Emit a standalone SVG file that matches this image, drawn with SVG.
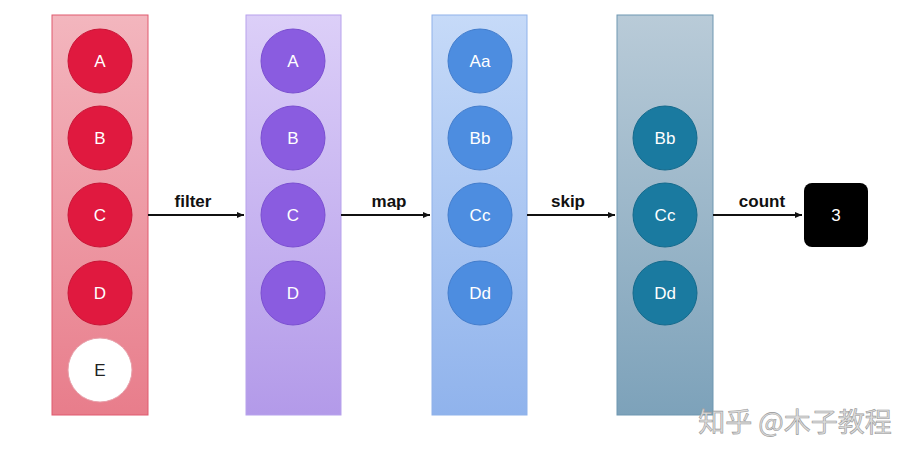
<svg xmlns="http://www.w3.org/2000/svg" width="915" height="457" viewBox="0 0 915 457">
<defs>
<linearGradient id="gr" x1="0" y1="0" x2="0" y2="1"><stop offset="0" stop-color="#f3b6be"/><stop offset="1" stop-color="#e87d8b"/></linearGradient>
<linearGradient id="gp" x1="0" y1="0" x2="0" y2="1"><stop offset="0" stop-color="#dccff8"/><stop offset="1" stop-color="#b39ae9"/></linearGradient>
<linearGradient id="gb" x1="0" y1="0" x2="0" y2="1"><stop offset="0" stop-color="#c6daf8"/><stop offset="1" stop-color="#90b3ec"/></linearGradient>
<linearGradient id="gt" x1="0" y1="0" x2="0" y2="1"><stop offset="0" stop-color="#b9cbd8"/><stop offset="1" stop-color="#7da2ba"/></linearGradient>
<marker id="ah" markerWidth="8" markerHeight="8" refX="7" refY="4" orient="auto" markerUnits="userSpaceOnUse"><path d="M0,1 L7,4 L0,7 Z" fill="#111"/></marker>
</defs>
<style>
text{font-family:"Liberation Sans",Arial,sans-serif;text-anchor:middle;dominant-baseline:central}
.c{font-size:17px;fill:#fff}
.l{font-size:17px;font-weight:bold;fill:#111}
.r{fill:#e0193f;stroke:#c81536;stroke-width:1}
.p{fill:#8a5ce0;stroke:#7a4fd0;stroke-width:1}
.b{fill:#4d8de0;stroke:#437dcc;stroke-width:1}
.t{fill:#1a7aa0;stroke:#156a8c;stroke-width:1}
line{stroke:#111;stroke-width:2;marker-end:url(#ah)}
</style>
<rect width="915" height="457" fill="#fff"/>
<g id="col1">
<rect x="52" y="15" width="96" height="400" fill="url(#gr)" stroke="#e05a6e"/>
<circle class="r" cx="100" cy="61" r="32"/><text class="c" x="100" y="61">A</text>
<circle class="r" cx="100" cy="138" r="32"/><text class="c" x="100" y="138">B</text>
<circle class="r" cx="100" cy="215" r="32"/><text class="c" x="100" y="215">C</text>
<circle class="r" cx="100" cy="293" r="32"/><text class="c" x="100" y="293">D</text>
<circle cx="100" cy="370" r="32" fill="#fff" stroke="#e8a0aa"/><text class="c" x="100" y="370" style="fill:#222">E</text>
</g>
<g id="col2">
<rect x="246" y="15" width="95" height="400" fill="url(#gp)" stroke="#b7a2ec"/>
<circle class="p" cx="293" cy="61" r="32"/><text class="c" x="293" y="61">A</text>
<circle class="p" cx="293" cy="138" r="32"/><text class="c" x="293" y="138">B</text>
<circle class="p" cx="293" cy="215" r="32"/><text class="c" x="293" y="215">C</text>
<circle class="p" cx="293" cy="293" r="32"/><text class="c" x="293" y="293">D</text>
</g>
<g id="col3">
<rect x="432" y="15" width="95" height="400" fill="url(#gb)" stroke="#8fb2ea"/>
<circle class="b" cx="480" cy="61" r="32"/><text class="c" x="480" y="61">Aa</text>
<circle class="b" cx="480" cy="138" r="32"/><text class="c" x="480" y="138">Bb</text>
<circle class="b" cx="480" cy="215" r="32"/><text class="c" x="480" y="215">Cc</text>
<circle class="b" cx="480" cy="293" r="32"/><text class="c" x="480" y="293">Dd</text>
</g>
<g id="col4">
<rect x="617" y="15" width="96" height="400" fill="url(#gt)" stroke="#6f97b1"/>
<circle class="t" cx="665" cy="138" r="32"/><text class="c" x="665" y="138">Bb</text>
<circle class="t" cx="665" cy="215" r="32"/><text class="c" x="665" y="215">Cc</text>
<circle class="t" cx="665" cy="293" r="32"/><text class="c" x="665" y="293">Dd</text>
</g>
<g id="result">
<rect x="804" y="183" width="64" height="64" rx="8" fill="#000"/>
<text class="c" x="836" y="215">3</text>
</g>
<g id="connectors">
<line x1="148" y1="215" x2="244" y2="215"/><text class="l" x="193" y="201">filter</text>
<line x1="341" y1="215" x2="430" y2="215"/><text class="l" x="389" y="201">map</text>
<line x1="527" y1="215" x2="615" y2="215"/><text class="l" x="568" y="201">skip</text>
<line x1="713" y1="215" x2="802" y2="215"/><text class="l" x="762" y="201">count</text>
</g>
<text x="795" y="420" style="font-family:'Noto Sans CJK SC',sans-serif;font-size:27px;fill:#ddd;stroke:#999;stroke-width:0.6">知乎 @木子教程</text>
</svg>
